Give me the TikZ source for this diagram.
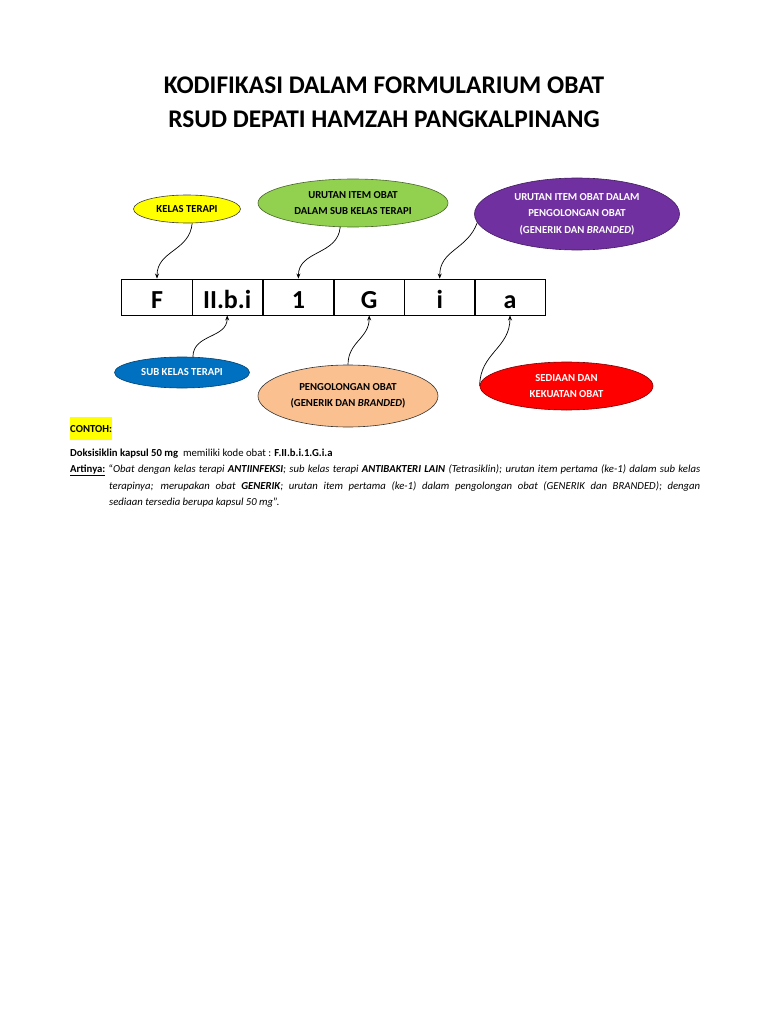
\documentclass[tikz,border=0pt]{standalone}
\usepackage{fontspec}
\setmainfont{Carlito}
\usetikzlibrary{shapes.geometric,arrows.meta}
\definecolor{cyellow}{HTML}{FFFF00}
\definecolor{cgreen}{HTML}{92D050}
\definecolor{cpurple}{HTML}{7030A0}
\definecolor{cblue}{HTML}{0070C0}
\definecolor{corange}{HTML}{FAC090}
\definecolor{cred}{HTML}{FF0000}
\begin{document}
\begin{tikzpicture}[x=1pt,y=-1pt,
  codebox/.style={draw, line width=0.9pt, minimum width=70.5pt, minimum height=36pt, inner sep=0pt, text height=22.6pt, text depth=0pt, font=\fontsize{26}{30}\selectfont\bfseries},
  ell/.style={ellipse, draw, line width=0.6pt, inner sep=0pt, align=center, font=\fontsize{10.7}{16.5}\selectfont\bfseries},
  conn/.style={line width=0.7pt, -{Stealth[length=5pt,width=4pt]}},
  bodytext/.style={anchor=base west, inner sep=0pt, font=\fontsize{10.7}{16.5}\selectfont}
]
\useasboundingbox (0,0) rectangle (768,1024);
\fill[white] (0,0) rectangle (768,1024);

% titles
\node[font=\fontsize{25.4}{28}\selectfont\bfseries, anchor=base] (t1) at (384,94) {KODIFIKASI DALAM FORMULARIUM OBAT};
\node[font=\fontsize{25.4}{28}\selectfont\bfseries, anchor=base] (t2) at (384,128) {RSUD DEPATI HAMZAH PANGKALPINANG};

% code boxes
\node[codebox] (b1) at (157,297) {F};
\node[codebox] (b2) at (227.2,297) {II.b.i};
\node[codebox] (b3) at (298.4,297) {1};
\node[codebox] (b4) at (369.2,297) {G};
\node[codebox] (b5) at (439.7,297) {i};
\node[codebox] (b6) at (510,297) {a};

% ellipses
\node[ell, fill=cyellow, draw=black!75, minimum width=107pt, minimum height=28pt] (kt) at (187,209) {KELAS TERAPI};
\node[ell, fill=cgreen, draw=cgreen!50!black, minimum width=190pt, minimum height=48pt] (gr) at (353,203) {URUTAN ITEM OBAT\\DALAM SUB KELAS TERAPI};
\node[ell, fill=cpurple, draw=cpurple!60!black, text=white, minimum width=205pt, minimum height=72pt] (pu) at (577,214) {URUTAN ITEM OBAT DALAM\\PENGOLONGAN OBAT\\(GENERIK DAN \textit{BRANDED})};
\node[ell, fill=cblue, draw=cblue!60!black, text=white, minimum width=135pt, minimum height=31pt] (bl) at (182,372.5) {SUB KELAS TERAPI};
\node[ell, fill=corange, draw=black!80, minimum width=180pt, minimum height=62pt] (or) at (348,396) {PENGOLONGAN OBAT\\(GENERIK DAN \textit{BRANDED})};
\node[ell, fill=cred, draw=cred!50!black, text=white, minimum width=173pt, minimum height=48pt] (rd) at (566.5,386) {SEDIAAN DAN\\KEKUATAN OBAT};

% connectors
\draw[conn] (kt.-70) to[out=-95, in=90, looseness=1.1] (b1.north);
\draw[conn] (gr.242) to[out=-95, in=90, looseness=1.1] (b3.north);
\draw[conn] (pu.185) to[out=-110, in=90, looseness=1.1] (b5.north);
\draw[conn] (bl.55) to[out=90, in=-90, looseness=1.1] (b2.south);
\draw[conn] (or.north) to[out=90, in=-90, looseness=1.1] (b4.south);
\draw[conn] (rd.west) to[out=90, in=-90, looseness=1.1] (b6.south);

% example text
\node[bodytext] (c1) at (70,432) {\colorbox{cyellow}{\hspace{-\fboxsep}\strut\bfseries CONTOH:\hspace{-\fboxsep}}};
\node[bodytext] (c2) at (70,456) {\bfseries Doksisiklin kapsul 50 mg\ \ \mdseries memiliki kode obat : \bfseries F.II.b.i.1.G.i.a};
\node[bodytext, anchor=north west, text width=630pt, align=justify] (c3) at (70,464.5) {\textbf{\underline{Artinya:}}\hangindent=39pt\hangafter=1\relax\ “\textit{Obat dengan kelas terapi \textbf{ANTIINFEKSI}; sub kelas terapi \textbf{ANTIBAKTERI LAIN} (Tetrasiklin); urutan item pertama (ke-1) dalam sub kelas\linebreak terapinya; merupakan obat \textbf{GENERIK}; urutan item pertama (ke-1) dalam pengolongan obat (GENERIK dan BRANDED); dengan\linebreak sediaan tersedia berupa kapsul 50 mg}”.\par};
\end{tikzpicture}
\end{document}
